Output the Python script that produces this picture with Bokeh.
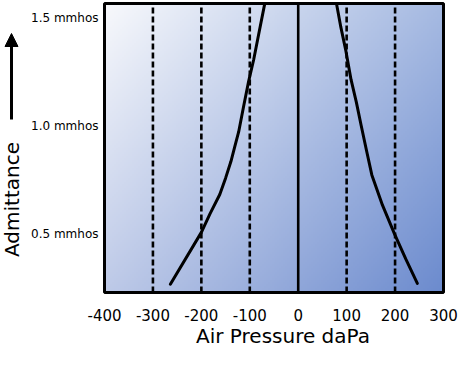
import numpy as np
from bokeh.plotting import figure
from bokeh.models import Range1d, Arrow, NormalHead
from bokeh.embed import file_html
from bokeh.resources import INLINE

# ---- data ----
x_ticks = [-400, -300, -200, -100, 0, 100, 200, 300]
x_tick_labels = ["-400", "-300", "-200", "-100", "0", "100", "200", "300"]
y_ticks = [0.5, 1.0, 1.5]
y_tick_labels = ["0.5 mmhos", "1.0 mmhos", "1.5 mmhos"]
dashed_x = [-300, -200, -100, 100, 200]
solid_x = [0]

left_x = [-264, -200, -182, -162, -150, -139, -131, -123, -113, -103, -92, -80, -69]
left_y = [0.269, 0.509, 0.596, 0.684, 0.760, 0.837, 0.906, 0.974, 1.089, 1.202, 1.308, 1.445, 1.569]
right_x = [79, 88, 98, 109, 120, 130, 141, 152, 174, 199, 222, 246]
right_y = [1.569, 1.459, 1.354, 1.217, 1.112, 1.004, 0.888, 0.775, 0.635, 0.501, 0.386, 0.273]

x_label = "Air Pressure daPa"
y_label = "Admittance"

# ---- layout (pixels on a 458x350 canvas) ----
W_PX, H_PX = 458, 350
BOX_L, BOX_R, BOX_T, BOX_B = 104, 443, 3, 292
X0, X1 = -400, 300                  # plot box x extent (data)
Y_TICK_HI_PX, Y_TICK_LO_PX = 17.8, 233.8   # pixel rows of 1.5 and 0.5
kx = (BOX_R - BOX_L) / (X1 - X0)
ky = (Y_TICK_LO_PX - Y_TICK_HI_PX) / (1.5 - 0.5)
XS = X0 - BOX_L / kx
XE = XS + W_PX / kx
YT = 1.5 + Y_TICK_HI_PX / ky
YB = YT - H_PX / ky
Y0 = YT - BOX_B / ky
Y1 = YT - BOX_T / ky

def cx(px):
    return XS + px / kx

def cy(py):
    return YT - py / ky

FONT = "DejaVu Sans"

p = figure(width=W_PX, height=H_PX, output_backend="svg", toolbar_location=None,
           x_range=Range1d(XS, XE), y_range=Range1d(YB, YT),
           min_border=0)
p.min_border_left = 0
p.min_border_right = 0
p.min_border_top = 0
p.min_border_bottom = 0
p.axis.visible = False
p.grid.visible = False
p.outline_line_color = None
p.background_fill_color = "white"
p.border_fill_color = "white"

# gradient background of the plot box (decoration)
H, W = 145, 170
u = np.linspace(0, 1, W)[None, :]
w = np.linspace(1, 0, H)[:, None]  # row 0 is the bottom
tl = np.array([248, 249, 252]); tr = np.array([166, 186, 226]); bl = np.array([190, 202, 232])
img = np.empty((H, W), dtype=np.uint32)
view = img.view(dtype=np.uint8).reshape((H, W, 4))
for c in range(3):
    ch = tl[c] + (tr[c] - tl[c]) * u + (bl[c] - tl[c]) * w
    view[:, :, c] = np.clip(ch, 0, 255).astype(np.uint8)
view[:, :, 3] = 255
p.image_rgba(image=[img], x=X0, y=Y0, dw=X1 - X0, dh=Y1 - Y0)

for xv in dashed_x:
    p.line([xv, xv], [Y0, Y1], line_color="black", line_width=2.6, line_dash="6 3")
for xv in solid_x:
    p.line([xv, xv], [Y0, Y1], line_color="black", line_width=2.6)

p.line(left_x, left_y, line_color="black", line_width=3, line_cap="round", line_join="round")
p.line(right_x, right_y, line_color="black", line_width=3, line_cap="round", line_join="round")

# plot box outline
p.quad(left=[X0], right=[X1], bottom=[Y0], top=[Y1], fill_color=None,
       line_color="black", line_width=3)

# x tick labels
p.text(x=x_ticks, y=[cy(314)] * len(x_ticks), text=x_tick_labels,
       text_align="center", text_baseline="middle",
       text_font={"value": FONT}, text_font_size="15px", text_color="black")
# y tick labels
p.text(x=[cx(BOX_L - 6)] * len(y_ticks), y=y_ticks, text=y_tick_labels,
       text_align="right", text_baseline="middle",
       text_font={"value": FONT}, text_font_size="12px", text_color="black")
# axis titles
p.text(x=[cx((BOX_L + BOX_R) / 2 + 9)], y=[cy(335)], text=[x_label],
       text_align="center", text_baseline="middle",
       text_font={"value": FONT}, text_font_size="20px", text_color="black")
p.text(x=[cx(11)], y=[cy(199)], text=[y_label], angle=np.pi / 2,
       text_align="center", text_baseline="middle",
       text_font={"value": FONT}, text_font_size="20px", text_color="black")

arr = Arrow(x_start=cx(11), y_start=cy(119), x_end=cx(11), y_end=cy(33),
            line_color="black", line_width=3,
            end=NormalHead(size=13, fill_color="black", line_color="black"))
p.add_layout(arr)

open("out.html", "w").write(file_html(p, INLINE))
